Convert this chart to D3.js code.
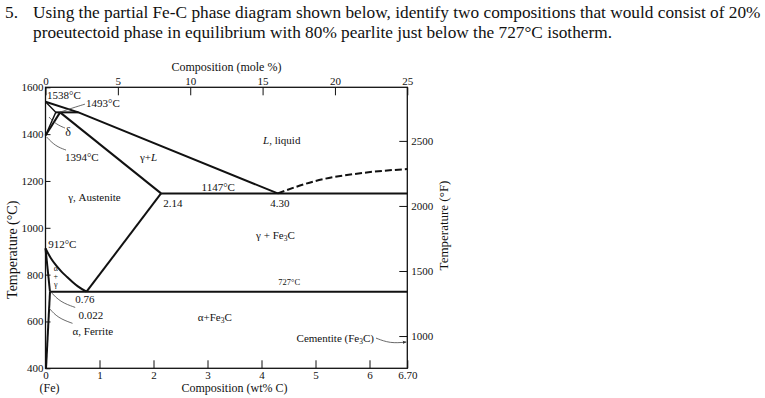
<!DOCTYPE html>
<html><head><meta charset="utf-8">
<script src="https://cdn.jsdelivr.net/npm/d3@7"></script>
<style>
html,body{margin:0;padding:0;background:#fff;}
svg{display:block;font-family:"Liberation Serif","Times New Roman",serif;}
svg text{font-family:"Liberation Serif","Times New Roman",serif;}
</style></head>
<body><svg id="c" width="765" height="398"></svg>
<script>
// ---- data ----
const wtTicks = [0, 1, 2, 3, 4, 5, 6, 6.70];
const moleTicks = [0, 5, 10, 15, 20, 25];
const tempTicksC = [400, 600, 800, 1000, 1200, 1400, 1600];
const tempTicksF = [1000, 1500, 2000, 2500];

// phase boundaries [wt% C, °C]
const liquidus = [[0, 1538], [0.61, 1493], [4.30, 1147]];
const liquidusDashed = [[4.30, 1147], [5.0, 1200], [5.9, 1235], [6.70, 1251]];
const deltaBoundary = [[0, 1538], [0.19, 1493], [0, 1394]];
const peritectic = [[0.19, 1493], [0.61, 1493]];
const gammaDelta = [[0, 1394], [0.27, 1493]];
const solidus = [[0.27, 1493], [2.14, 1147]];
const eutectic = [[2.14, 1147], [6.70, 1147]];
const acm = [[2.14, 1147], [0.76, 727]];
const a3 = [[0, 912], [0.1, 870], [0.2, 838], [0.3, 812], [0.4, 790], [0.5, 769], [0.6, 750], [0.76, 727]];
const alphaGamma = [[0, 912], [0.083, 727]];
const eutectoid = [[0.083, 727], [6.70, 727]];
const alphaSolvus = [[0.083, 727], [0.01, 400]];

const title1num = "5.";
const title1 = "Using the partial Fe-C phase diagram shown below, identify two compositions that would consist of 20%";
const title2 = "proeutectoid phase in equilibrium with 80% pearlite just below the 727°C isotherm.";

// ---- scales ----
const L = 45.5, R = 407.3, T = 87.3, B = 368.3;
const x = d3.scaleLinear().domain([0, 6.70]).range([L, R]);
const xMole = d3.scaleLinear().domain([0, 25]).range([L, R]);
const y = d3.scaleLinear().domain([400, 1600]).range([B, T]);
const yF = d3.scaleLinear().domain([400 * 1.8 + 32, 1600 * 1.8 + 32]).range([B, T]);

const FONT = "Liberation Serif";
const svg = d3.select("#c");
svg.append("rect").attr("width", 765).attr("height", 398).attr("fill", "#fff");

// title
const tg = svg.append("g").attr("font-family", FONT).attr("font-size", 17.3).attr("fill", "#111");
tg.append("text").attr("x", 5).attr("y", 18).text(title1num);
tg.append("text").attr("x", 33).attr("y", 18).text(title1);
tg.append("text").attr("x", 33).attr("y", 38).text(title2);

// axes
function styleAxis(g) {
  g.select(".domain").remove();
  g.attr("font-family", FONT);
  g.selectAll("text").attr("font-family", FONT).attr("font-size", 11).attr("fill", "#111");
  g.selectAll("line").attr("stroke", "#111").attr("stroke-width", 1);
}
const fmtInt = d3.format("d");
svg.append("g").attr("transform", `translate(0,${B})`)
  .call(d3.axisBottom(x).tickValues(wtTicks).tickSizeInner(-8).tickSizeOuter(0).tickPadding(3)
    .tickFormat(d => d === 6.70 ? "6.70" : fmtInt(d)))
  .call(styleAxis);
svg.append("g").attr("transform", `translate(0,${T})`)
  .call(d3.axisTop(xMole).tickValues(moleTicks).tickSizeInner(-8).tickSizeOuter(0).tickPadding(2).tickFormat(fmtInt))
  .call(styleAxis);
svg.append("g").attr("transform", `translate(${L},0)`)
  .call(d3.axisLeft(y).tickValues(tempTicksC).tickSizeInner(-5).tickSizeOuter(0).tickPadding(2).tickFormat(fmtInt))
  .call(styleAxis);
svg.append("g").attr("transform", `translate(${R},0)`)
  .call(d3.axisRight(yF).tickValues(tempTicksF).tickSizeInner(-8).tickSizeOuter(0).tickPadding(4).tickFormat(fmtInt))
  .call(styleAxis);

// frame
svg.append("rect").attr("x", L).attr("y", T).attr("width", R - L).attr("height", B - T)
  .attr("fill", "none").attr("stroke", "#111").attr("stroke-width", 1.3);

// axis titles
const at = svg.append("g").attr("font-family", FONT).attr("fill", "#111").attr("font-size", 12);
at.append("text").attr("x", xMole(12.5)).attr("y", 71).attr("text-anchor", "middle").text("Composition (mole %)");
at.append("text").attr("x", x(3.5)).attr("y", 392).attr("text-anchor", "middle").text("Composition (wt% C)");
at.append("text").attr("x", x(0) + 4).attr("y", 392).attr("text-anchor", "middle").text("(Fe)");
at.append("text").attr("transform", `translate(17,${y(1000) + 22}) rotate(-90)`).attr("text-anchor", "middle").attr("font-size", 14).text("Temperature (°C)");
at.append("text").attr("transform", `translate(448,${yF(1850)}) rotate(-90)`).attr("text-anchor", "middle").attr("font-size", 13).text("Temperature (°F)");

// phase boundaries
const line = d3.line().x(d => x(d[0])).y(d => y(d[1]));
const curve = d3.line().x(d => x(d[0])).y(d => y(d[1])).curve(d3.curveMonotoneX);
const pg = svg.append("g").attr("fill", "none").attr("stroke", "#111").attr("stroke-linejoin", "round");
[liquidus, peritectic, gammaDelta, solidus, eutectic, acm, alphaGamma, eutectoid, alphaSolvus].forEach(p =>
  pg.append("path").attr("d", line(p)).attr("stroke-width", 2));
pg.append("path").attr("d", line(deltaBoundary)).attr("stroke-width", 1.4);
pg.append("path").attr("d", curve(a3)).attr("stroke-width", 2);
pg.append("path").attr("d", curve(liquidusDashed)).attr("stroke-width", 2).attr("stroke-dasharray", "7,3");

// leader lines
const defs = svg.append("defs");
defs.append("marker").attr("id", "arr").attr("viewBox", "0 0 10 10").attr("refX", 9).attr("refY", 5)
  .attr("markerWidth", 5).attr("markerHeight", 5).attr("orient", "auto")
  .append("path").attr("d", "M0,1L10,5L0,9z").attr("fill", "#333");
const leaders = [
  [[0.27, 1494], [0.49, 1511], [0.73, 1528]],
  [[0.065, 1473], [0.19, 1443], [0.36, 1426]],
  [[0.02, 1388], [0.18, 1349], [0.38, 1332]],
  [[0.096, 727], [0.27, 683], [0.55, 660]],
  [[0.07, 656], [0.23, 615], [0.5, 592]]
];
const lcurve = d3.line().x(d => x(d[0])).y(d => y(d[1])).curve(d3.curveBasis);
const lg = svg.append("g").attr("fill", "none").attr("stroke", "#444").attr("stroke-width", 0.8);
leaders.forEach(p => lg.append("path").attr("d", lcurve(p)));
lg.append("path").attr("d", lcurve([[6.12, 529], [6.38, 506], [6.68, 512]])).attr("marker-end", "url(#arr)");

// labels
const lab = svg.append("g").attr("font-family", FONT).attr("fill", "#111").attr("font-size", 11);
function addLabel(t, wt, tc, opts = {}) {
  const el = lab.append("text").attr("x", x(wt)).attr("y", y(tc)).attr("text-anchor", opts.anchor || "start");
  if (opts.size) el.attr("font-size", opts.size);
  t.forEach(s => {
    const ts = el.append("tspan").text(s.t);
    if (s.sub) ts.attr("font-size", 7.5).attr("dy", 2);
    if (s.after) ts.attr("dy", -2);
    if (s.it) ts.attr("font-style", "italic");
  });
}
addLabel([{t: "1538°C"}], 0.03, 1550);
addLabel([{t: "1493°C"}], 0.75, 1515);
addLabel([{t: "δ"}], 0.42, 1394, {anchor: "middle", size: 12});
addLabel([{t: "1394°C"}], 0.36, 1287);
addLabel([{t: "γ+"}, {t: "L", it: true}], 1.75, 1287);
addLabel([{t: "L", it: true}, {t: ", liquid"}], 4.03, 1358);
addLabel([{t: "1147°C"}], 2.89, 1158);
addLabel([{t: "2.14"}], 2.18, 1088);
addLabel([{t: "4.30"}], 4.16, 1088);
addLabel([{t: "γ, Austenite"}], 0.42, 1116);
addLabel([{t: "γ + Fe"}, {t: "3", sub: true}, {t: "C", after: true}], 3.90, 952);
addLabel([{t: "727°C"}], 4.31, 757, {size: 8.5});
addLabel([{t: "912°C"}], 0.05, 914);
addLabel([{t: "α"}], 0.19, 815, {anchor: "middle", size: 8});
addLabel([{t: "+"}], 0.19, 781, {anchor: "middle", size: 8});
addLabel([{t: "γ"}], 0.19, 747, {anchor: "middle", size: 8});
addLabel([{t: "0.76"}], 0.55, 678);
addLabel([{t: "0.022"}], 0.61, 610);
addLabel([{t: "α, Ferrite"}], 0.50, 543);
addLabel([{t: "α+Fe"}, {t: "3", sub: true}, {t: "C", after: true}], 2.82, 603);
addLabel([{t: "Cementite (Fe"}, {t: "3", sub: true}, {t: "C)", after: true}], 4.65, 514);
</script></body></html>
